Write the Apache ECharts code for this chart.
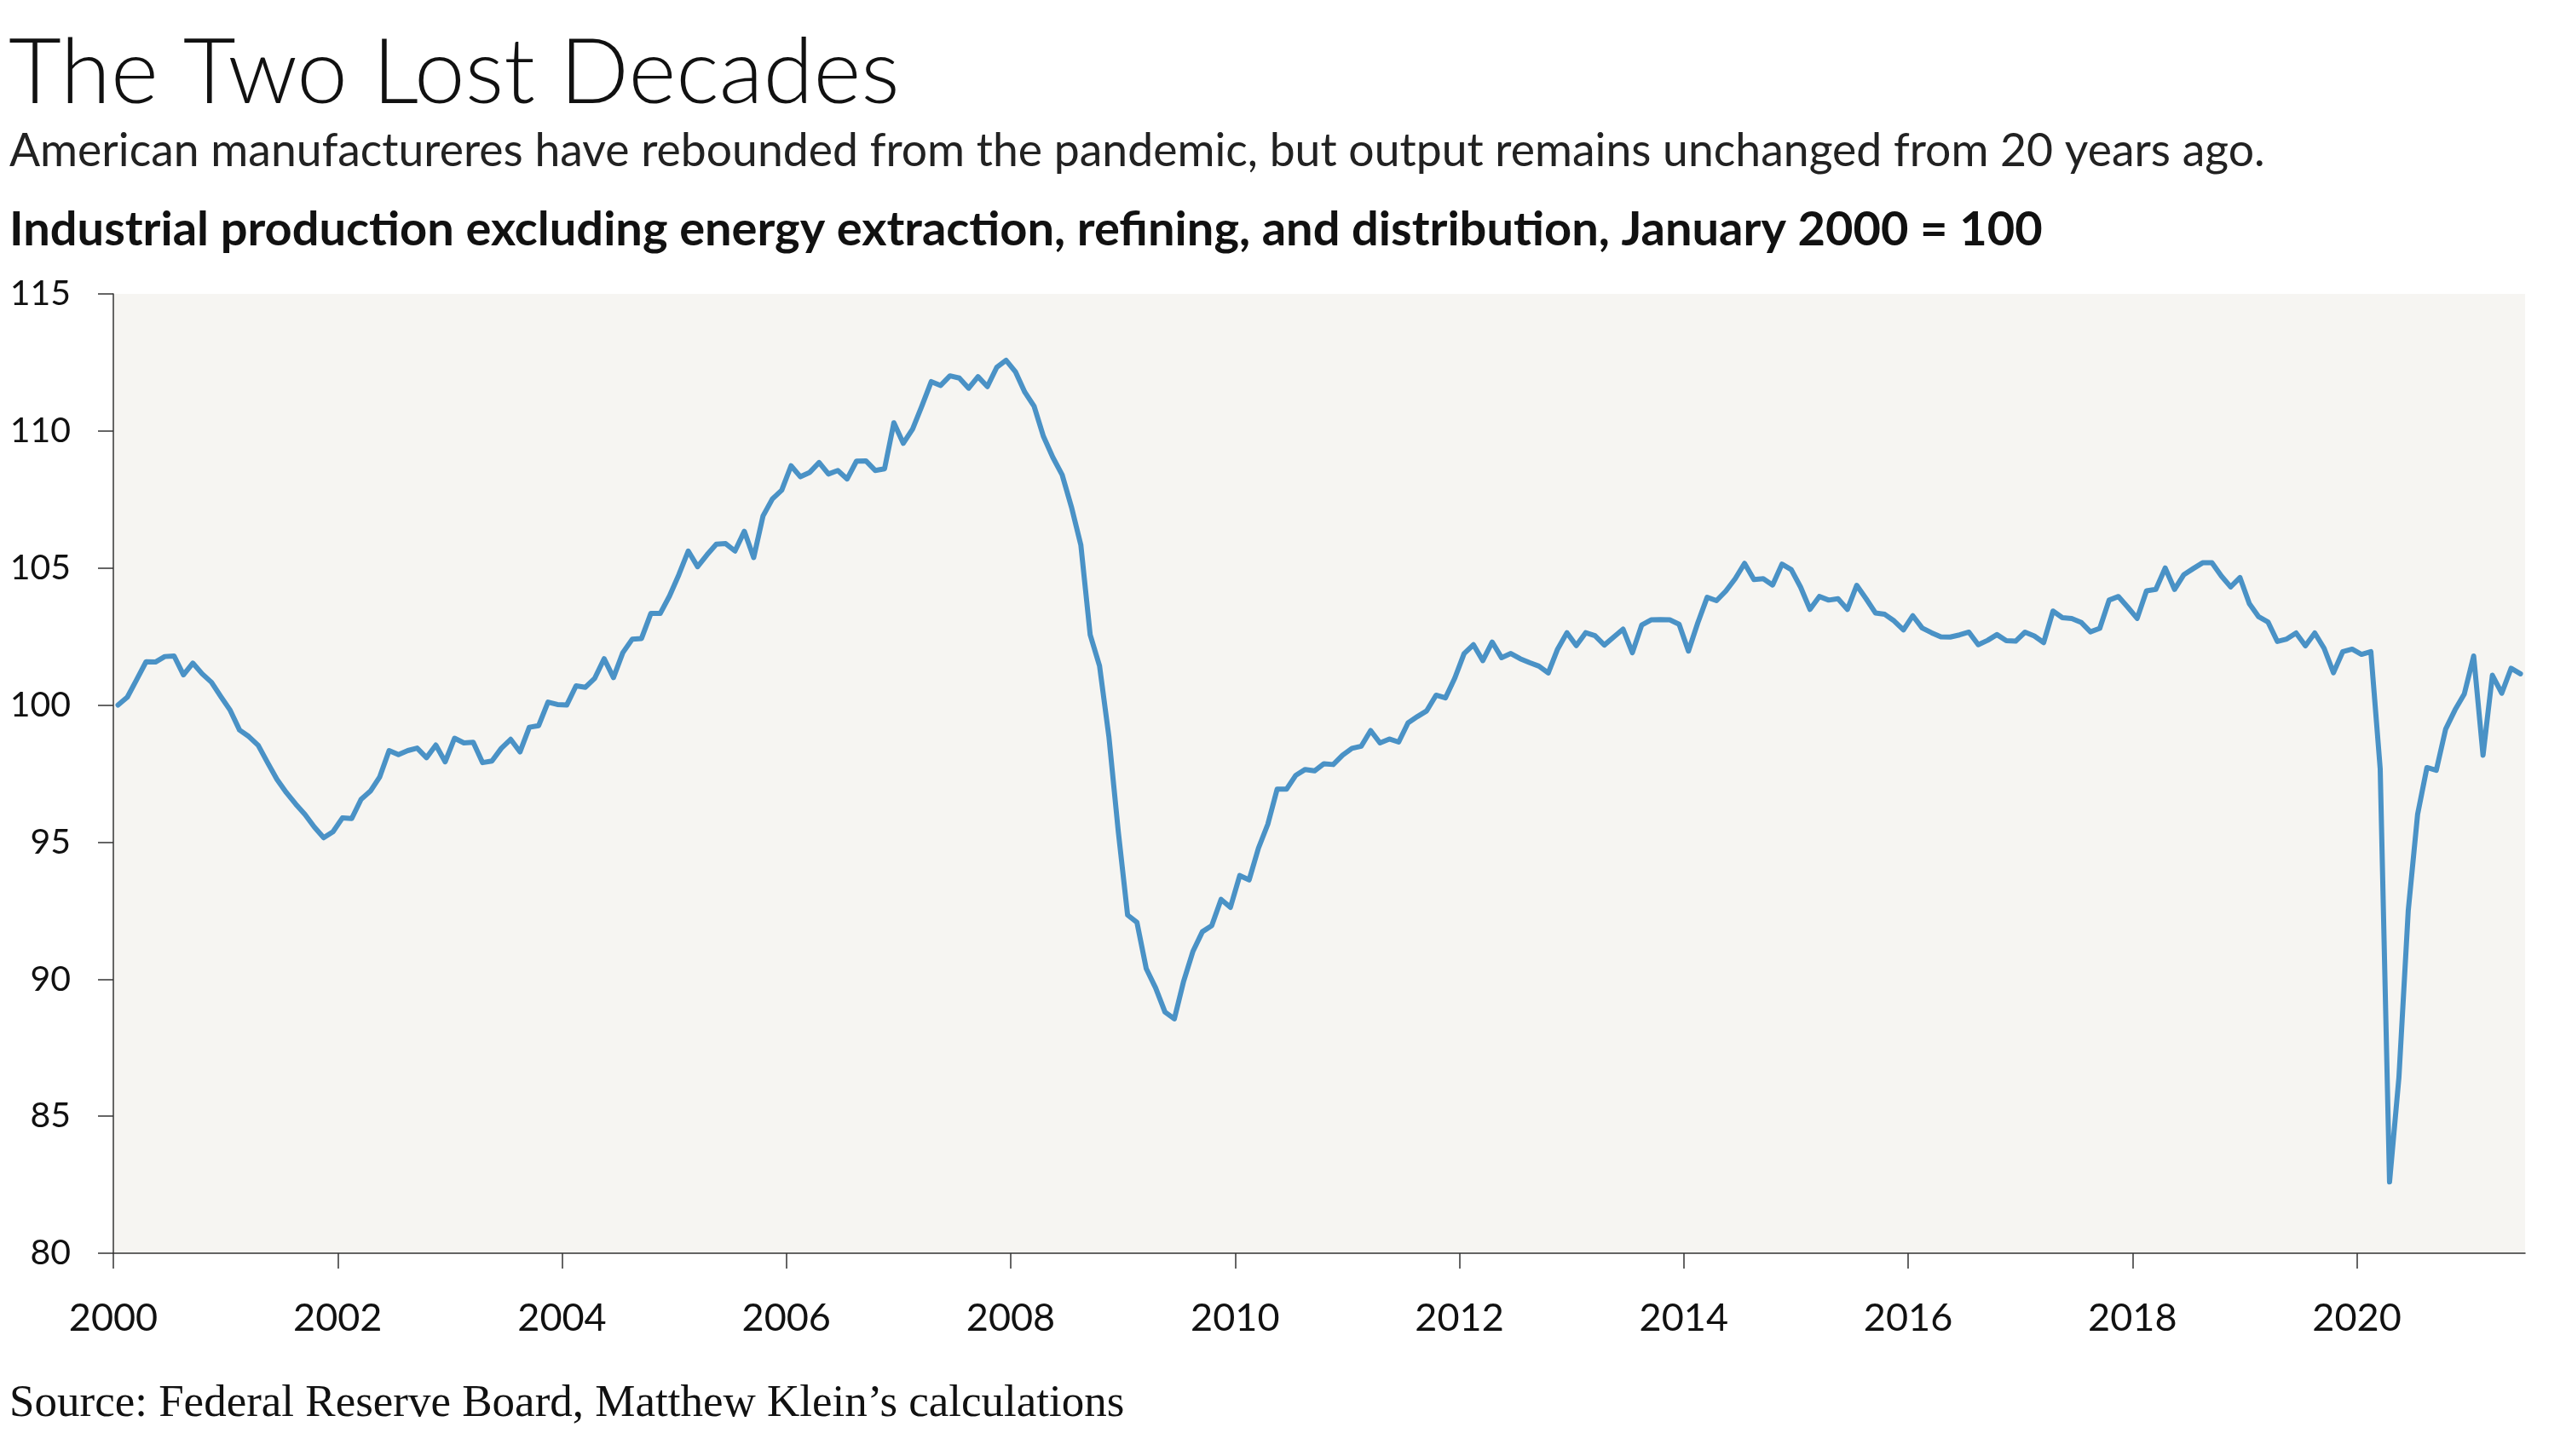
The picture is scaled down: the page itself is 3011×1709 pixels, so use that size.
<!DOCTYPE html>
<html>
<head>
<meta charset="utf-8">
<script src="https://cdn.jsdelivr.net/npm/echarts@6/dist/echarts.min.js"></script>
<style>
html,body{margin:0;padding:0;background:#ffffff;}
#chart{width:3011px;height:1709px;}
</style>
</head>
<body>
<div id="chart"></div>
<script>
// ---- Data (monthly, January 2000 = 100) ----
const startYear = 2000;
const indexValues = [
  100.0, 100.29, 100.93, 101.58, 101.57, 101.77, 101.79, 101.1, 101.53, 101.14, 100.83, 100.31,
  99.81, 99.09, 98.85, 98.53, 97.9, 97.29, 96.81, 96.39, 96.01, 95.55, 95.16, 95.38,
  95.88, 95.86, 96.56, 96.86, 97.38, 98.34, 98.19, 98.34, 98.43, 98.08, 98.54, 97.93,
  98.79, 98.62, 98.64, 97.9, 97.96, 98.42, 98.75, 98.29, 99.19, 99.25, 100.11, 100.02,
  100.0, 100.7, 100.65, 100.98, 101.69, 101.0, 101.91, 102.4, 102.43, 103.34, 103.34, 103.98,
  104.76, 105.62, 105.05, 105.48, 105.87, 105.89, 105.62, 106.34, 105.38, 106.9, 107.52, 107.84,
  108.73, 108.33, 108.49, 108.85, 108.43, 108.56, 108.25, 108.9, 108.91, 108.56, 108.62, 110.3,
  109.55, 110.07, 110.92, 111.8, 111.66, 112.01, 111.93, 111.56, 111.98, 111.62, 112.32, 112.58,
  112.16, 111.42, 110.9, 109.8, 109.04, 108.4, 107.22, 105.84, 102.56, 101.43, 98.85, 95.4,
  92.34, 92.07, 90.38, 89.68, 88.8, 88.55, 89.93, 91.02, 91.73, 91.95, 92.91, 92.62,
  93.78, 93.62, 94.78, 95.65, 96.93, 96.93, 97.44, 97.65, 97.6, 97.86, 97.83, 98.17,
  98.42, 98.5, 99.07, 98.62, 98.76, 98.65, 99.35, 99.58, 99.79, 100.36, 100.26, 100.98,
  101.88, 102.2, 101.62, 102.3, 101.73, 101.88, 101.69, 101.55, 101.42, 101.17, 102.04, 102.64,
  102.17, 102.64, 102.53, 102.19, 102.48, 102.77, 101.91, 102.92, 103.11, 103.12, 103.11, 102.95,
  101.97, 103.0, 103.93, 103.81, 104.16, 104.61, 105.17, 104.58, 104.61, 104.38, 105.14, 104.94,
  104.3, 103.49, 103.96, 103.83, 103.88, 103.49, 104.37, 103.88, 103.36, 103.31, 103.07, 102.74,
  103.26, 102.81, 102.64, 102.49, 102.48, 102.56, 102.66, 102.2, 102.36, 102.57, 102.35, 102.33,
  102.66, 102.52, 102.28, 103.43, 103.19, 103.16, 103.02, 102.67, 102.8, 103.83, 103.96, 103.57,
  103.16, 104.17, 104.22, 105.0, 104.22, 104.76, 104.98, 105.19, 105.19, 104.71, 104.31, 104.65,
  103.7, 103.22, 103.03, 102.32, 102.41, 102.63, 102.16, 102.63, 102.07, 101.18, 101.95, 102.04,
  101.85, 101.95, 97.68, 82.6, 86.4, 92.5, 96.01, 97.72, 97.62, 99.12, 99.82, 100.41,
  101.79, 98.17, 101.09, 100.43, 101.34, 101.14
];
const xTickYears = [2000, 2002, 2004, 2006, 2008, 2010, 2012, 2014, 2016, 2018, 2020];
const yTicks = [80, 85, 90, 95, 100, 105, 110, 115];

const titleText = 'The Two Lost Decades';
const subtitleText = 'American manufactureres have rebounded from the pandemic, but output remains unchanged from 20 years ago.';
const chartLabelText = 'Industrial production excluding energy extraction, refining, and distribution, January 2000 = 100';
const sourceText = 'Source: Federal Reserve Board, Matthew Klein\u2019s calculations';

// month index -> fractional year (mid-month)
const seriesData = indexValues.map((v, i) => [startYear + (i + 0.5) / 12, v]);

const chart = echarts.init(document.getElementById('chart'), null, {renderer: 'canvas'});
const axisColor = '#333333';
const sans = 'Lato, "Open Sans", sans-serif';

chart.setOption({
  backgroundColor: '#ffffff',
  animation: false,
  grid: {
    left: 133, top: 345, right: 48, bottom: 238,
    show: true, backgroundColor: '#f6f5f2', borderWidth: 0
  },
  xAxis: {
    type: 'value',
    min: 2000, max: 2021.5,
    axisLine: {show: true, onZero: false, lineStyle: {color: axisColor, width: 1.5}},
    axisTick: {show: true, length: 18, customValues: xTickYears, lineStyle: {color: axisColor, width: 1.5}},
    axisLabel: {
      customValues: xTickYears, margin: 54,
      fontSize: 45, fontFamily: sans, color: '#111111',
      formatter: v => String(Math.round(v))
    },
    splitLine: {show: false}
  },
  yAxis: {
    type: 'value',
    min: 80, max: 115, interval: 5,
    axisLine: {show: true, lineStyle: {color: axisColor, width: 1.5}},
    axisTick: {show: true, length: 18, customValues: yTicks, lineStyle: {color: axisColor, width: 1.5}},
    axisLabel: {customValues: yTicks, margin: 50, fontSize: 41, fontFamily: sans, color: '#111111'},
    splitLine: {show: false}
  },
  series: [{
    type: 'line',
    data: seriesData,
    showSymbol: false,
    symbol: 'none',
    lineStyle: {color: '#4a92c6', width: 6, join: 'round', cap: 'round'},
    silent: true
  }],
  graphic: [
    {type: 'text', x: 10, y: 86, style: {text: titleText, fontSize: 107, fontWeight: 300, fontFamily: sans, fill: '#111111', verticalAlign: 'middle'}},
    {type: 'text', x: 11, y: 178, style: {text: subtitleText, fontSize: 53.5, fontWeight: 400, fontFamily: sans, fill: '#222222', verticalAlign: 'middle'}},
    {type: 'text', x: 11, y: 270, style: {text: chartLabelText, fontSize: 56, fontWeight: 700, fontFamily: sans, fill: '#111111', verticalAlign: 'middle'}},
    {type: 'text', x: 11, y: 1648, style: {text: sourceText, fontSize: 53, fontWeight: 400, fontFamily: '"Liberation Serif", "DejaVu Serif", serif', fill: '#111111', verticalAlign: 'middle'}}
  ]
});
</script>
</body>
</html>
